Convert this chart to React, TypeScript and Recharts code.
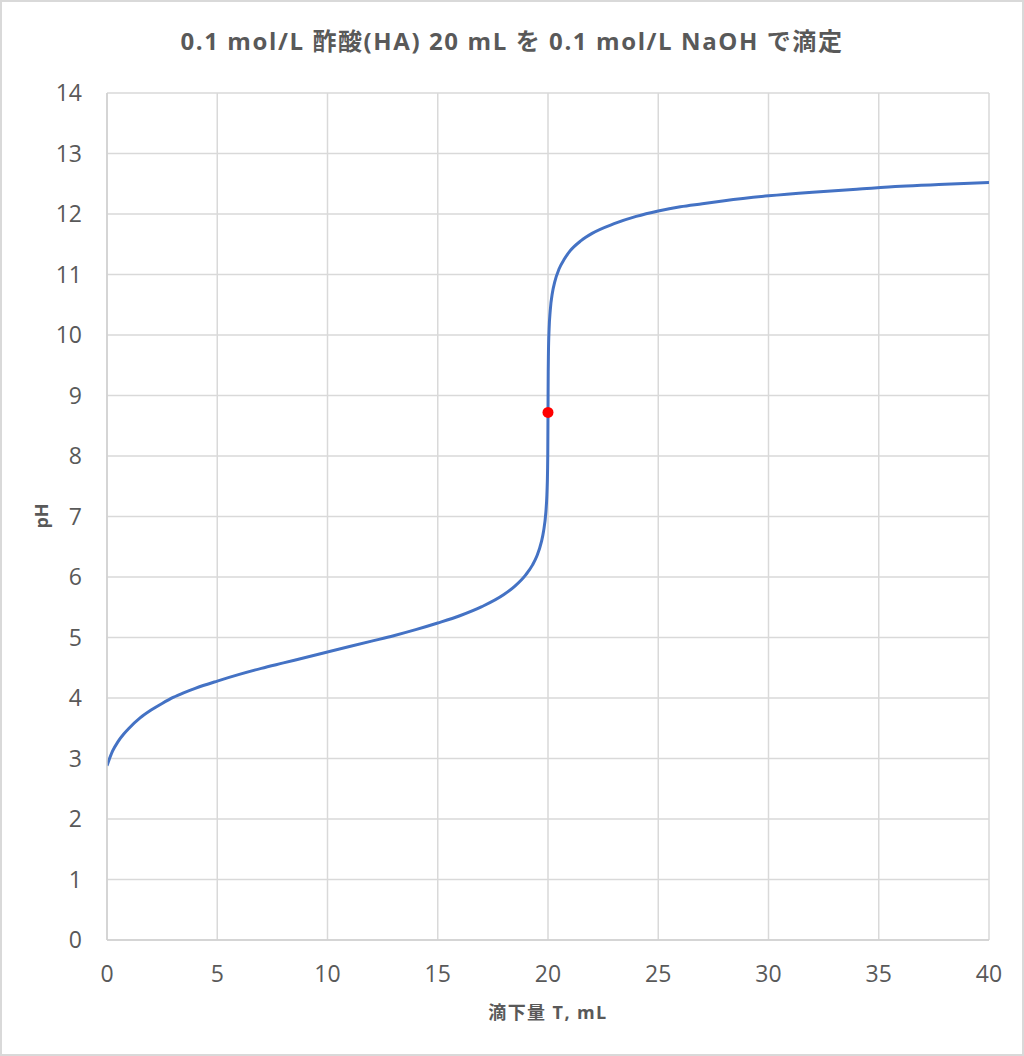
import React from "react";
import { ComposedChart, Line, Scatter, XAxis, YAxis, CartesianGrid } from "recharts";

const titleText = "0.1 mol/L 酢酸(HA) 20 mL を 0.1 mol/L NaOH で滴定";
const xAxisTitle = "滴下量 T, mL";
const yAxisTitle = "pH";

const volumes = [0, 0.25, 0.5, 0.75, 1, 1.5, 2, 2.5, 3, 3.5, 4, 5, 6, 7, 8, 9, 10, 11, 12, 13, 14, 15, 16, 17, 18, 18.5, 19, 19.3, 19.5, 19.7, 19.8, 19.9, 19.95, 19.98, 19.99, 20, 20.01, 20.02, 20.05, 20.1, 20.2, 20.3, 20.5, 20.75, 21, 21.5, 22, 23, 24, 25, 26, 27, 28, 30, 32, 34, 36, 38, 40];
const phValues = [2.88, 3.12, 3.28, 3.4, 3.5, 3.67, 3.8, 3.91, 4.01, 4.09, 4.16, 4.28, 4.39, 4.49, 4.58, 4.67, 4.76, 4.85, 4.94, 5.03, 5.13, 5.24, 5.36, 5.51, 5.71, 5.85, 6.04, 6.2, 6.35, 6.58, 6.76, 7.06, 7.36, 7.76, 8.04, 8.72, 9.4, 9.7, 10.1, 10.4, 10.7, 10.87, 11.09, 11.26, 11.39, 11.56, 11.68, 11.84, 11.96, 12.05, 12.12, 12.17, 12.22, 12.3, 12.36, 12.41, 12.46, 12.49, 12.52];

const equivalenceT = [20];
const equivalencePH = [8.72];

const xTicks = [0, 5, 10, 15, 20, 25, 30, 35, 40];
const yTicks = [0, 1, 2, 3, 4, 5, 6, 7, 8, 9, 10, 11, 12, 13, 14];

const curveData = volumes.map((t, i) => ({ T: t, pH: phValues[i] }));
const pointData = equivalenceT.map((t, i) => ({ T: t, pH: equivalencePH[i] }));

const tickStyle = { fill: "#595959", fontSize: 23, fontFamily: '"Open Sans", "Noto Sans", sans-serif' };
const textFont = '"Open Sans", "Noto Sans CJK JP", sans-serif';

export default function App() {
  return (
    <div style={{ position: "absolute", left: 0, top: 0, width: 1024, height: 1056, background: "#fff", fontFamily: textFont }}>
      <ComposedChart
        width={1024}
        height={1056}
        data={curveData}
        margin={{ top: 93, right: 35, bottom: 56, left: 30 }}
      >
        <CartesianGrid stroke="#d9d9d9" strokeWidth={1.5} />
        <XAxis
          type="number"
          dataKey="T"
          domain={[0, 40]}
          ticks={xTicks}
          interval={0}
          height={60}
          tickLine={false}
          tickSize={6}
          tickMargin={20}
          axisLine={{ stroke: "#d0d0d0", strokeWidth: 1.5 }}
          tick={tickStyle}
          allowDataOverflow
        />
        <YAxis
          type="number"
          dataKey="pH"
          domain={[0, 14]}
          ticks={yTicks}
          interval={0}
          width={77}
          tickLine={false}
          tickSize={6}
          tickMargin={19}
          axisLine={{ stroke: "#d0d0d0", strokeWidth: 1.5 }}
          tick={tickStyle}
          allowDataOverflow
        />
        <Line
          type="monotone"
          dataKey="pH"
          stroke="#4472C4"
          strokeWidth={3}
          dot={false}
          activeDot={false}
          isAnimationActive={false}
        />
        <Scatter
          data={pointData}
          dataKey="pH"
          fill="#FF0000"
          shape={(props: any) => <circle cx={props.cx} cy={props.cy} r={5.5} fill="#FF0000" />}
          isAnimationActive={false}
        />
      </ComposedChart>
      <div style={{ position: "absolute", left: 0, top: 22, width: 1024, textAlign: "center", fontSize: 24, letterSpacing: 1.6, fontWeight: 700, color: "#595959", fontFamily: textFont, whiteSpace: "nowrap" }}>
        {titleText}
      </div>
      <div style={{ position: "absolute", left: 0, top: 998, width: 1096, textAlign: "center", fontSize: 18, letterSpacing: 1.4, fontWeight: 700, color: "#595959", fontFamily: textFont, whiteSpace: "nowrap" }}>
        {xAxisTitle}
      </div>
      <div style={{ position: "absolute", left: 41, top: 516, transform: "translate(-50%, -50%) rotate(-90deg)", fontSize: 18, fontWeight: 700, color: "#595959", fontFamily: textFont, whiteSpace: "nowrap" }}>
        {yAxisTitle}
      </div>
      <div style={{ position: "absolute", left: 0, top: 0, width: 1024, height: 1056, boxSizing: "border-box", border: "2px solid #d9d9d9", pointerEvents: "none" }} />
    </div>
  );
}
